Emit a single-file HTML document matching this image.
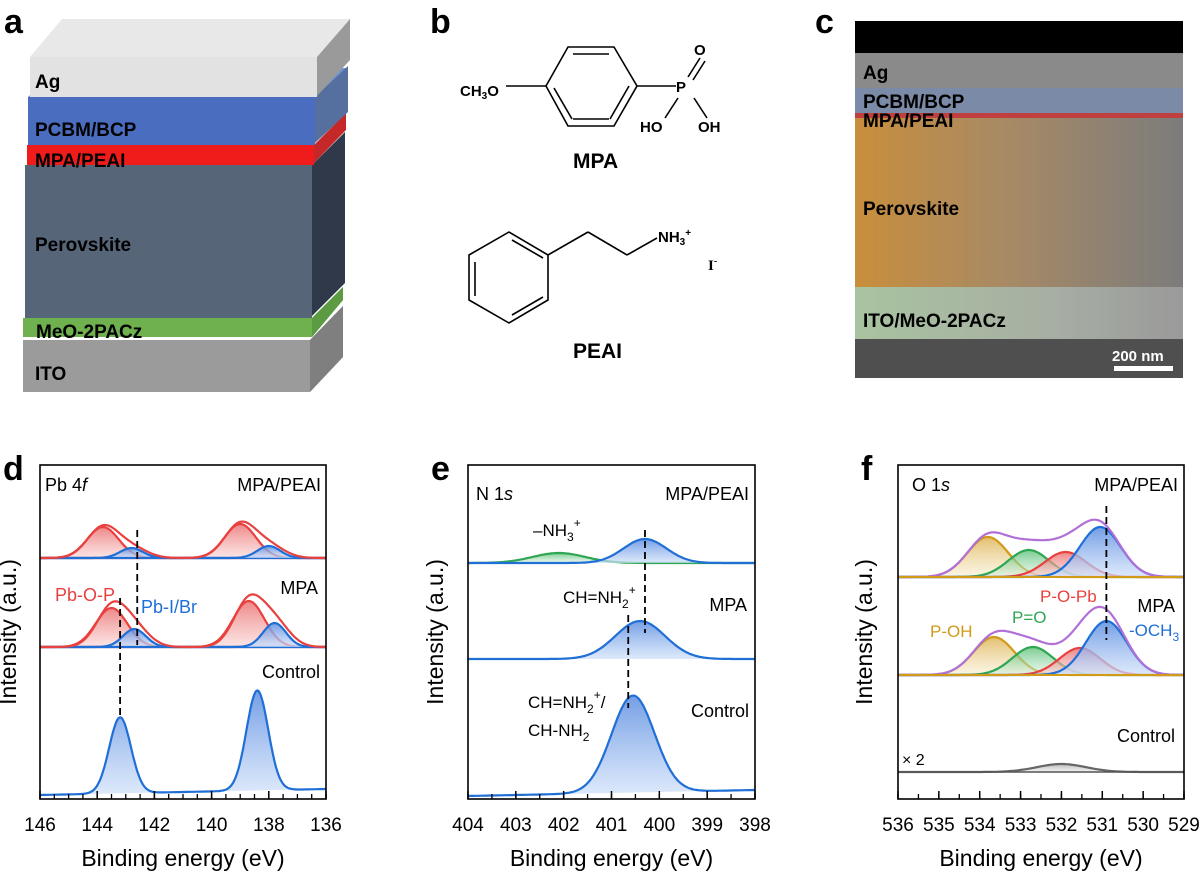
<!DOCTYPE html>
<html><head><meta charset="utf-8"><style>
body{margin:0;background:#fff;width:1200px;height:873px;overflow:hidden;font-family:"Liberation Sans",Arial,sans-serif}
svg{display:block}
</style></head><body>
<svg id="fig" width="1200" height="873" viewBox="0 0 1200 873" xmlns="http://www.w3.org/2000/svg" font-family="Liberation Sans, Arial, sans-serif">
<defs>
<linearGradient id="gB" x1="0" y1="0" x2="0" y2="1"><stop offset="0" stop-color="#5b8de0" stop-opacity="0.85"/><stop offset="1" stop-color="#cfe0fa" stop-opacity="0.7"/></linearGradient>
<linearGradient id="gR" x1="0" y1="0" x2="0" y2="1"><stop offset="0" stop-color="#e86060" stop-opacity="0.75"/><stop offset="1" stop-color="#fbd3d3" stop-opacity="0.6"/></linearGradient>
<linearGradient id="gG" x1="0" y1="0" x2="0" y2="1"><stop offset="0" stop-color="#4dbb6e" stop-opacity="0.75"/><stop offset="1" stop-color="#d6f0dc" stop-opacity="0.5"/></linearGradient>
<linearGradient id="gY" x1="0" y1="0" x2="0" y2="1"><stop offset="0" stop-color="#d9aa40" stop-opacity="0.75"/><stop offset="1" stop-color="#f7ebc8" stop-opacity="0.5"/></linearGradient>
<linearGradient id="gK" x1="0" y1="0" x2="0" y2="1"><stop offset="0" stop-color="#999" stop-opacity="0.7"/><stop offset="1" stop-color="#ddd" stop-opacity="0.4"/></linearGradient>
<linearGradient id="perov" x1="0" y1="0" x2="1" y2="0"><stop offset="0" stop-color="#c98e3c"/><stop offset="0.45" stop-color="#a88a64"/><stop offset="1" stop-color="#7c7c7c"/></linearGradient>
<linearGradient id="itoG" x1="0" y1="0" x2="1" y2="0"><stop offset="0" stop-color="#a9c3a0"/><stop offset="0.6" stop-color="#a7aea3"/><stop offset="1" stop-color="#9a9a9a"/></linearGradient>
</defs>

<!-- Panel a -->
<g>
<text x="4" y="33" font-size="34" font-weight="bold">a</text>
<polygon points="23,340 310,340 343,306 343,357 310,392 23,392" fill="#9a9a9a"/>
<polygon points="310,340 343,306 343,357 310,392" fill="#7f7f7f"/>
<rect x="23" y="340" width="287" height="52" fill="#9b9b9b"/>
<polygon points="23,318 312,318 343,287 343,300 312,337 23,337" fill="#6fb04f"/>
<polygon points="312,318 343,287 343,300 312,337" fill="#5d9b42"/>
<rect x="25" y="165" width="287" height="153" fill="#566578"/>
<polygon points="312,165 345,132 345,283 312,316" fill="#2f394a"/>
<rect x="27" y="145" width="287" height="20" fill="#f01c1c"/>
<polygon points="314,145 346,113 346,130 314,163" fill="#c42828"/>
<polygon points="28,97 60,68 348,68 315,97" fill="#6b95d8"/>
<rect x="28" y="97" width="287" height="48" fill="#4b6dc0"/>
<polygon points="315,97 348,66 348,112 315,143" fill="#55709e"/>
<polygon points="30,57 62,19 350,19 317,57" fill="#e8e8e8"/>
<rect x="30" y="57" width="287" height="40" fill="#e2e2e2"/>
<polygon points="317,57 350,19 350,60 317,96" fill="#9a9a9a"/>
<g font-weight="bold" font-size="19" fill="#000">
<text x="35" y="88">Ag</text>
<text x="35" y="136">PCBM/BCP</text>
<text x="35" y="167">MPA/PEAI</text>
<text x="35" y="251">Perovskite</text>
<text x="36" y="338">MeO-2PACz</text>
<text x="35" y="380">ITO</text>
</g>
</g>

<!-- Panel b -->
<g stroke="#000" stroke-width="1.6" fill="none">
<text x="430" y="33" font-size="34" font-weight="bold" fill="#000" stroke="none">b</text>
<polygon points="546,86 568,47 614,47 637,86 614,126 568,126"/>
<line x1="573" y1="54" x2="609" y2="54"/><line x1="573" y1="119" x2="609" y2="119"/><line x1="554" y1="88" x2="572" y2="119"/><line x1="629" y1="86" x2="610" y2="119"/>
<line x1="506" y1="86" x2="546" y2="86"/><line x1="637" y1="86" x2="676" y2="86"/>
<line x1="688" y1="77" x2="700" y2="58"/><line x1="693" y1="80" x2="705" y2="61"/>
<line x1="678" y1="98" x2="665" y2="118"/><line x1="694" y1="98" x2="707" y2="118"/>
<polygon points="469,255 509,232 548,255 548,300 509,323 469,300"/>
<line x1="475" y1="262" x2="475" y2="296"/><line x1="512" y1="240" x2="543" y2="258"/><line x1="512" y1="315" x2="543" y2="297"/>
<line x1="548" y1="255" x2="588" y2="232"/><line x1="588" y1="232" x2="627" y2="255"/><line x1="627" y1="255" x2="657" y2="238"/>
<g stroke="none" fill="#000" font-weight="bold">
<text x="460" y="96" font-size="15">CH<tspan font-size="10" dy="3">3</tspan><tspan dy="-3">O</tspan></text>
<text x="676" y="92" font-size="15">P</text>
<text x="694" y="55" font-size="15">O</text>
<text x="640" y="132" font-size="15">HO</text>
<text x="698" y="132" font-size="15">OH</text>
<text x="573" y="168" font-size="21">MPA</text>
<text x="658" y="242" font-size="15">NH<tspan font-size="10" dy="3">3</tspan><tspan font-size="10" dy="-9">+</tspan></text>
<text x="708" y="270" font-size="15" font-family="Liberation Serif, serif">I<tspan font-size="10" dy="-6">-</tspan></text>
<text x="573" y="358" font-size="21">PEAI</text>
</g>
</g>

<!-- Panel c -->
<g>
<text x="815" y="33" font-size="34" font-weight="bold">c</text>
<rect x="855" y="21" width="328" height="357" fill="#6c6c6c"/>
<rect x="855" y="21" width="328" height="32" fill="#000"/>
<rect x="855" y="53" width="328" height="35" fill="#8a8a8a"/>
<rect x="855" y="88" width="328" height="25" fill="#7b8aa6"/>
<rect x="855" y="113" width="328" height="5" fill="#c04040"/>
<rect x="855" y="118" width="328" height="169" fill="url(#perov)"/>
<rect x="855" y="287" width="328" height="52" fill="url(#itoG)"/>
<rect x="855" y="339" width="328" height="39" fill="#4f4f4f"/>
<g font-weight="bold" font-size="19" fill="#000">
<text x="863" y="79">Ag</text>
<text x="863" y="108">PCBM/BCP</text>
<text x="863" y="127">MPA/PEAI</text>
<text x="863" y="215">Perovskite</text>
<text x="863" y="327">ITO/MeO-2PACz</text>
</g>
<text x="1112" y="361" font-size="15" font-weight="bold" fill="#fff">200 nm</text>
<rect x="1114" y="366" width="59" height="5" fill="#fff"/>
</g>

<g id="charts"></g>
</svg>
<script>
// ---- Panel d: Pb 4f ----
const dTicks = [146,144,142,140,138,136];
const dCtrlCenters = [143.2, 138.4];
const dCtrlAmps = [76, 100];
const dMpaRedCenters = [143.5, 138.7];
const dMpaRedAmps = [39, 46];
const dMpaBlueCenters = [142.7, 137.8];
const dMpaBlueAmps = [18, 24];
const dPeaiRedCenters = [143.8, 139.0];
const dPeaiRedAmps = [31, 34];
const dPeaiBlueCenters = [142.8, 138.0];
const dPeaiBlueAmps = [10, 12];
// ---- Panel e: N 1s ----
const eTicks = [404,403,402,401,400,399,398];
const eCtrlCenters = [400.55];
const eCtrlAmps = [97];
const eMpaCenters = [400.4];
const eMpaAmps = [38];
const ePeaiBlueCenters = [400.3];
const ePeaiBlueAmps = [24];
const ePeaiGreenCenters = [402.1];
const ePeaiGreenAmps = [10];
// ---- Panel f: O 1s ----
const fTicks = [536,535,534,533,532,531,530,529];
const fComponents = ['P-OH','P=O','P-O-Pb','-OCH3'];
const fMpaCenters = [533.65, 532.7, 531.55, 530.9];
const fMpaAmps = [38, 28, 27, 54];
const fPeaiCenters = [533.8, 532.8, 531.9, 531.05];
const fPeaiAmps = [40, 27, 25, 50];
const fCtrlCenters = [532.0];
const fCtrlAmps = [8];

const NS = 'http://www.w3.org/2000/svg';
const root = document.getElementById('charts');
function el(tag, attrs, parent){const e=document.createElementNS(NS,tag);for(const k in attrs)e.setAttribute(k,attrs[k]);(parent||root).appendChild(e);return e;}
function txt(x,y,s,attrs,parent){const t=el('text',Object.assign({x:x,y:y},attrs||{}),parent);t.innerHTML=s;return t;}

function makePanel(name, x0, x1, emax, emin){
  const g = el('g',{});
  
  
  const sx = e => x0 + (emax - e) / (emax - emin) * (x1 - x0);
  return {g, sx};
}
function gauss(e,c,s){return Math.exp(-0.5*((e-c)/s)**2);}
function peakPath(p, base, slope, centers, amps, sigma, fill, stroke, name, lo, hi){
  const pts=[]; const N=200;
  for(let i=0;i<=N;i++){const e=lo+(hi-lo)*i/N; let v=0; for(let k=0;k<centers.length;k++) v+=amps[k]*gauss(e,centers[k],sigma); const x=p.sx(e); const by=base+slope*(x-p.sx(hi)); pts.push([x,by-v,by]);}
  let d='M'+pts.map(q=>q[0].toFixed(1)+','+q[1].toFixed(1)).join(' L');
  if(fill){
    let fd=d+' L'+pts.slice().reverse().map(q=>q[0].toFixed(1)+','+q[2].toFixed(1)).join(' L')+' Z';
    const f=el('path',{d:fd,fill:fill,stroke:'none'},p.g);
    
    
  }
  const l=el('path',{d:d,fill:'none',stroke:stroke,'stroke-width':2.2},p.g);
  
  
}
function frame(p, x0, x1, ticks, minorStep, label, yTitleX){
  el('rect',{x:x0,y:465,width:x1-x0,height:334,fill:'none',stroke:'#000','stroke-width':1.6},p.g);
  const emax=ticks[0], emin=ticks[ticks.length-1];
  for(let e=emax; e>=emin-1e-6; e-=minorStep){el('line',{x1:p.sx(e),x2:p.sx(e),y1:799,y2:794,stroke:'#000','stroke-width':1.3},p.g);}
  ticks.forEach(t=>{
    el('line',{x1:p.sx(t),x2:p.sx(t),y1:799,y2:791,stroke:'#000','stroke-width':1.5},p.g);
    const tl=txt(p.sx(t),831,String(t),{'font-size':19,'text-anchor':'middle'},p.g);
    
    
  });
  const xt=txt((x0+x1)/2,866,'Binding energy (eV)',{'font-size':23,'text-anchor':'middle'},p.g);
  
  
  const yt=txt(0,0,'Intensity (a.u.)',{'font-size':23,'text-anchor':'middle',transform:'translate('+yTitleX+',632) rotate(-90)'},p.g);
  
  
  const pl=txt(x0-37,480,label,{'font-size':34,'font-weight':'bold'},p.g);
  
  
}
function dash(p,e,y1,y2){const l=el('line',{x1:p.sx(e),x2:p.sx(e),y1:y1,y2:y2,stroke:'#000','stroke-width':1.8,'stroke-dasharray':'7,4'},p.g);}
const RED='#e8413f', BLUE='#1f6fd6', GREEN='#2fa653', YEL='#d19a17', PUR='#b070d8';

// Panel d
{
 const p=makePanel('pb4f-chart',40,326,146,136);
 peakPath(p,789,-6/286,dCtrlCenters,dCtrlAmps,0.38,'url(#gB)',BLUE,'control-pb-peaks',146,136);
 peakPath(p,647,0,[dMpaRedCenters[0]],[dMpaRedAmps[0]],0.55,'url(#gR)',RED,'mpa-pb-o-p-1',146,136);
 peakPath(p,647,0,[dMpaRedCenters[1]],[dMpaRedAmps[1]],0.55,'url(#gR)',RED,'mpa-pb-o-p-2',146,136);
 peakPath(p,647,0,[dMpaBlueCenters[0]],[dMpaBlueAmps[0]],0.4,'url(#gB)',BLUE,'mpa-pb-i-br-1',146,136);
 peakPath(p,647,0,[dMpaBlueCenters[1]],[dMpaBlueAmps[1]],0.4,'url(#gB)',BLUE,'mpa-pb-i-br-2',146,136);
 peakPath(p,647,0,dMpaRedCenters.concat(dMpaBlueCenters),dMpaRedAmps.concat(dMpaBlueAmps),0.52,null,RED,'mpa-envelope',146,136);
 peakPath(p,558,0,[dPeaiRedCenters[0]],[dPeaiRedAmps[0]],0.55,'url(#gR)',RED,'peai-pb-o-p-1',146,136);
 peakPath(p,558,0,[dPeaiRedCenters[1]],[dPeaiRedAmps[1]],0.55,'url(#gR)',RED,'peai-pb-o-p-2',146,136);
 peakPath(p,558,0,[dPeaiBlueCenters[0]],[dPeaiBlueAmps[0]],0.4,'url(#gB)',BLUE,'peai-pb-i-br-1',146,136);
 peakPath(p,558,0,[dPeaiBlueCenters[1]],[dPeaiBlueAmps[1]],0.4,'url(#gB)',BLUE,'peai-pb-i-br-2',146,136);
 peakPath(p,558,0,dPeaiRedCenters.concat(dPeaiBlueCenters),dPeaiRedAmps.concat(dPeaiBlueAmps),0.54,null,RED,'peai-envelope',146,136);
 dash(p,142.6,530,645); dash(p,143.2,598,718);
 frame(p,40,326,dTicks,0.5,'d',16);
 txt(45,491,'Pb 4<tspan font-style="italic">f</tspan>',{'font-size':18},p.g);
 txt(321,491,'MPA/PEAI',{'font-size':18,'text-anchor':'end'},p.g);
 txt(318,594,'MPA',{'font-size':18,'text-anchor':'end'},p.g);
 txt(320,678,'Control',{'font-size':18,'text-anchor':'end'},p.g);
 txt(55,601,'Pb-O-P',{'font-size':18,fill:RED},p.g);
 txt(141,613,'Pb-I/Br',{'font-size':18,fill:BLUE},p.g);
}
// Panel e
{
 const p=makePanel('n1s-chart',468,755,404,398);
 peakPath(p,790,-6/287,eCtrlCenters,eCtrlAmps,0.45,'url(#gB)',BLUE,'control-n-peak',404,398);
 peakPath(p,659,0,eMpaCenters,eMpaAmps,0.52,'url(#gB)',BLUE,'mpa-n-peak',404,398);
 peakPath(p,563,0,ePeaiGreenCenters,ePeaiGreenAmps,0.55,'url(#gG)',GREEN,'peai-nh3-peak',404,398);
 peakPath(p,563,0,ePeaiBlueCenters,ePeaiBlueAmps,0.45,'url(#gB)',BLUE,'peai-ch-nh2-peak',404,398);
 dash(p,400.3,530,633); dash(p,400.65,615,708);
 frame(p,468,755,eTicks,0.5,'e',443);
 txt(476,500,'N 1<tspan font-style="italic">s</tspan>',{'font-size':18},p.g);
 txt(749,500,'MPA/PEAI',{'font-size':18,'text-anchor':'end'},p.g);
 txt(747,611,'MPA',{'font-size':18,'text-anchor':'end'},p.g);
 txt(749,717,'Control',{'font-size':18,'text-anchor':'end'},p.g);
 txt(533,536,'–NH<tspan font-size="12" dy="5">3</tspan><tspan font-size="12" dy="-14">+</tspan>',{'font-size':17},p.g);
 txt(563,603,'CH=NH<tspan font-size="12" dy="5">2</tspan><tspan font-size="12" dy="-14">+</tspan>',{'font-size':17},p.g);
 txt(528,708,'CH=NH<tspan font-size="12" dy="5">2</tspan><tspan font-size="12" dy="-14">+</tspan><tspan dy="9">/</tspan>',{'font-size':17},p.g);
 txt(528,736,'CH-NH<tspan font-size="12" dy="5">2</tspan>',{'font-size':17},p.g);
}
// Panel f
{
 const p=makePanel('o1s-chart',898,1184,536,529);
 const fills=['url(#gY)','url(#gG)','url(#gR)','url(#gB)'], cols=[YEL,GREEN,RED,BLUE];
 peakPath(p,772,0,fCtrlCenters,fCtrlAmps,0.6,'url(#gK)','#666','control-o-peak',536,529);
 el('line',{x1:898,x2:1184,y1:772,y2:772,stroke:'#555','stroke-width':1.5},p.g);
 [[fMpaCenters,fMpaAmps,675,'mpa'],[fPeaiCenters,fPeaiAmps,577,'peai']].forEach(s=>{
   for(let k=0;k<4;k++) peakPath(p,s[2],0,[s[0][k]],[s[1][k]],0.5,fills[k],cols[k],s[3]+'-'+fComponents[k].toLowerCase().replace(/[^a-z0-9]+/g,'-'),536,529);
   peakPath(p,s[2],0,s[0],s[1],0.5,null,PUR,s[3]+'-envelope',536,529);
   el('line',{x1:898,x2:1184,y1:s[2],y2:s[2],stroke:YEL,'stroke-width':2},p.g);
 });
 dash(p,530.9,506,640);
 frame(p,898,1184,fTicks,0.5,'f',872);
 txt(912,491,'O 1<tspan font-style="italic">s</tspan>',{'font-size':18},p.g);
 txt(1178,491,'MPA/PEAI',{'font-size':18,'text-anchor':'end'},p.g);
 txt(1175,612,'MPA',{'font-size':18,'text-anchor':'end'},p.g);
 txt(1175,742,'Control',{'font-size':18,'text-anchor':'end'},p.g);
 txt(930,637,'P-OH',{'font-size':17,fill:YEL},p.g);
 txt(1012,623,'P=O',{'font-size':17,fill:GREEN},p.g);
 txt(1040,602,'P-O-Pb',{'font-size':17,fill:RED},p.g);
 txt(1129,636,'-OCH<tspan font-size="12" dy="5">3</tspan>',{'font-size':17,fill:BLUE},p.g);
 txt(902,765,'× 2',{'font-size':16},p.g);
}
</script>
</body></html>
